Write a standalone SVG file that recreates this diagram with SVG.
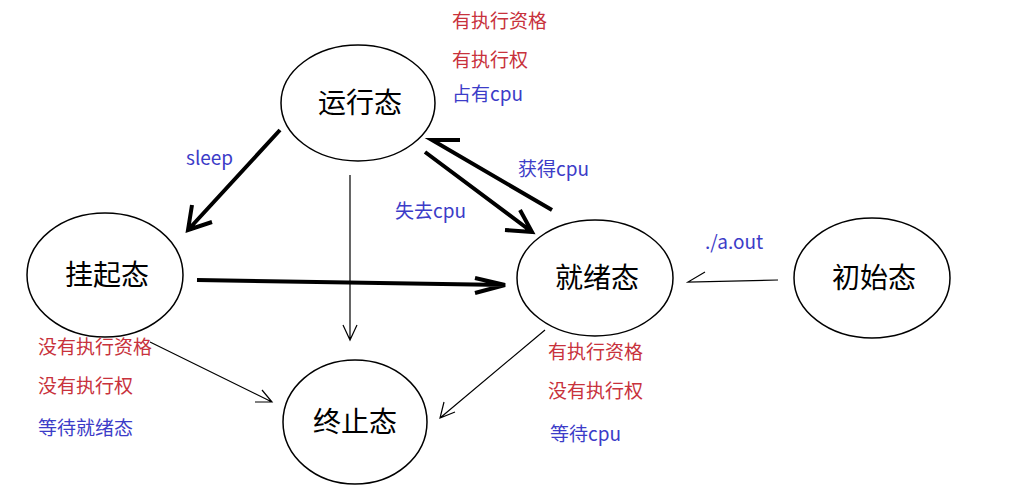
<svg xmlns="http://www.w3.org/2000/svg" width="1012" height="496" viewBox="0 0 1012 496">
<style>
.n{fill:#fff;stroke:#000;stroke-width:1.5}
.t{font-family:"Noto Sans CJK SC","Liberation Sans",sans-serif;font-size:28px;text-anchor:middle;fill:#000}
.r{font-family:"Noto Sans CJK SC","Liberation Sans",sans-serif;font-size:19px;fill:#c8323c}
.b{font-family:"Noto Sans CJK SC","Liberation Sans",sans-serif;font-size:19px;fill:#3c3cc8}
.k{stroke:#000;stroke-width:4;fill:none}
.h{stroke:#000;stroke-width:1.2;fill:none}
</style>
<rect width="1012" height="496" fill="#fff"/>
<g id="running"><ellipse class="n" cx="358" cy="103" rx="77" ry="58"/><text class="t" x="360" y="113">运行态</text></g>
<g id="suspended"><ellipse class="n" cx="105" cy="275" rx="78" ry="62"/><text class="t" x="107" y="285">挂起态</text></g>
<g id="ready"><ellipse class="n" cx="595" cy="278" rx="78" ry="58"/><text class="t" x="597" y="288">就绪态</text></g>
<g id="initial"><ellipse class="n" cx="872" cy="278" rx="78" ry="60"/><text class="t" x="874" y="288">初始态</text></g>
<g id="terminated"><ellipse class="n" cx="355" cy="422" rx="72" ry="62"/><text class="t" x="355" y="432">终止态</text></g>
<g id="connectors">
<path class="k" d="M280 130 L188 230 M192 205 L188 230 L212 222"/>
<path class="k" d="M425 152 L532 232 M505 230 L532 232 L520 210"/>
<path class="k" d="M552 210 L432 140 L460 140"/>
<path class="k" d="M197 280 L505 285 M475 278 L505 285 L475 293"/>
<path class="h" d="M350 175 L350 340 M343 325 L350 340 L357 325"/>
<path class="h" d="M150 342 L272 402 M255 402 L272 402 L262 390"/>
<path class="h" d="M545 330 L440 418 M444 402 L440 418 L455 412"/>
<path class="h" d="M778 280 L688 282 L705 272"/>
</g>
<text class="r" x="452" y="28">有执行资格</text>
<text class="r" x="452" y="67">有执行权</text>
<text class="b" x="452" y="101">占有cpu</text>
<text class="b" x="186" y="165">sleep</text>
<text class="b" x="518" y="176">获得cpu</text>
<text class="b" x="395" y="218">失去cpu</text>
<text class="b" x="705" y="249">./a.out</text>
<text class="r" x="38" y="354">没有执行资格</text>
<text class="r" x="38" y="393">没有执行权</text>
<text class="b" x="38" y="435">等待就绪态</text>
<text class="r" x="548" y="359">有执行资格</text>
<text class="r" x="548" y="398">没有执行权</text>
<text class="b" x="550" y="441">等待cpu</text>
</svg>
